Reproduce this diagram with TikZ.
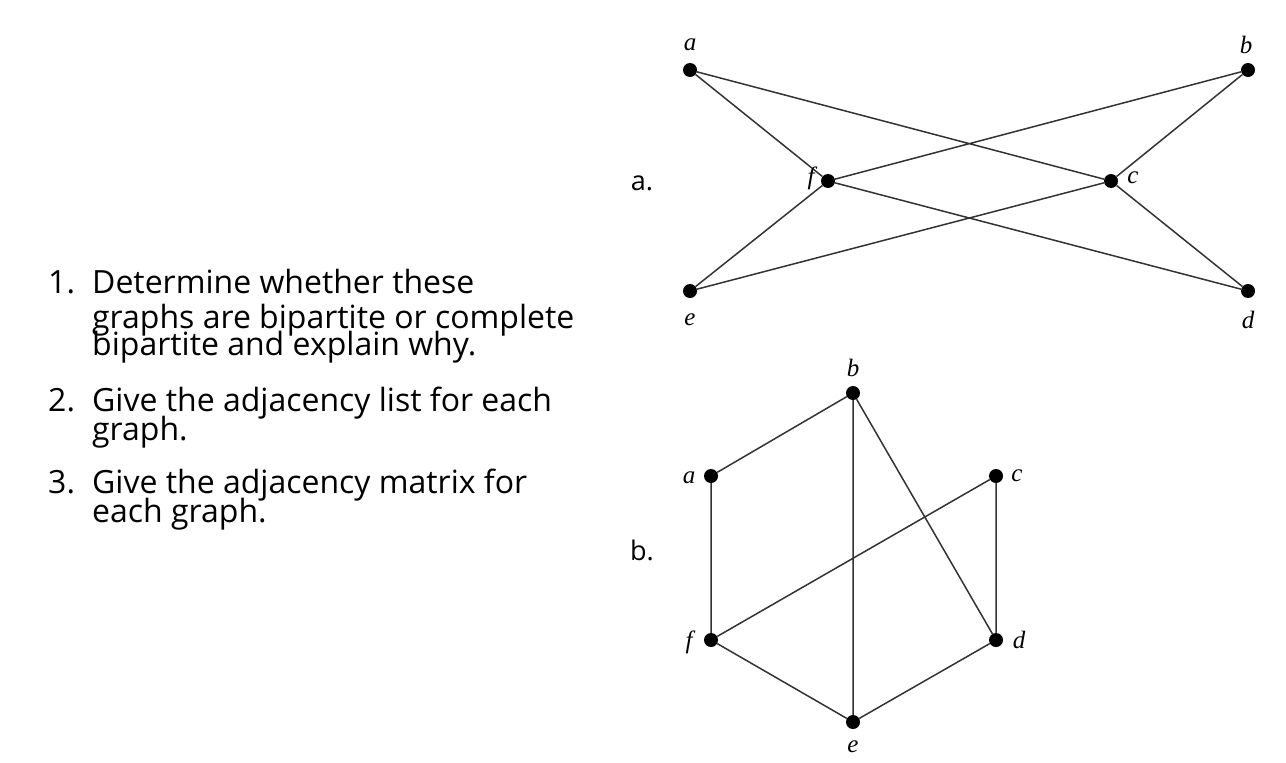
\documentclass[tikz,border=0pt]{standalone}
\usepackage{fontspec}
\setmainfont{Open Sans}
\newfontfamily\lab{Liberation Serif}
\begin{document}
\begin{tikzpicture}[x=1pt,y=-1pt,
  v/.style={circle,fill=black,inner sep=0pt,minimum size=14pt},
  lb/.style={font=\lab\itshape\fontsize{25}{25}\selectfont},
  ed/.style={line width=1.5pt,draw=black!80},
  tx/.style={anchor=base west,inner sep=0pt,font=\fontsize{32}{30}\selectfont}]
\useasboundingbox (0,0) rectangle (1286,763);
% graph a
\node[v] (a) at (690,70) {}; \node[v] (b) at (1248,70) {};
\node[v] (f) at (828,181) {}; \node[v] (c) at (1111,181) {};
\node[v] (e) at (690,291) {}; \node[v] (d) at (1248,291) {};
\draw[ed] (a)--(f) (a)--(c) (b)--(f) (b)--(c) (f)--(e) (f)--(d) (c)--(e) (c)--(d);
\node[lb] (la) at (690,45) {a}; \node[lb] (lbb) at (1246,45) {b};
\node[lb] (lf) at (811,178) {f}; \node[lb] (lc) at (1133,178) {c};
\node[lb] (le) at (690,320) {e}; \node[lb] (ld) at (1248,320) {d};
\node[font=\fontsize{27}{27}\selectfont] (ta) at (642,183) {a.};
% graph b
\node[v] (B) at (853,393) {}; \node[v] (A) at (711,476) {};
\node[v] (C) at (996,476) {}; \node[v] (F) at (711,640) {};
\node[v] (D) at (996,640) {}; \node[v] (E) at (853,722) {};
\draw[ed] (A)--(B) (B)--(E) (B)--(D) (C)--(F) (C)--(D) (A)--(F) (F)--(E) (E)--(D);
\node[lb] (lB) at (853,368) {b}; \node[lb] (lA) at (689,478) {a};
\node[lb] (lC) at (1017,476) {c}; \node[lb] (lF) at (689,642) {f};
\node[lb] (lD) at (1019,640) {d}; \node[lb] (lE) at (853,747) {e};
\node[font=\fontsize{27}{27}\selectfont] (tb) at (642,550) {b.};
% text
\node[tx] (t1) at (48,293) {1.}; \node[tx] (t1a) at (92,293) {Determine whether these};
\node[tx] (t1b) at (92,328) {graphs are bipartite or complete};
\node[tx] (t1c) at (92,355) {bipartite and explain why.};
\node[tx] (t2) at (48,411) {2.}; \node[tx] (t2a) at (92,411) {Give the adjacency list for each};
\node[tx] (t2b) at (92,440) {graph.};
\node[tx] (t3) at (48,493) {3.}; \node[tx] (t3a) at (92,493) {Give the adjacency matrix for};
\node[tx] (t3b) at (92,522) {each graph.};
\end{tikzpicture}
\end{document}
